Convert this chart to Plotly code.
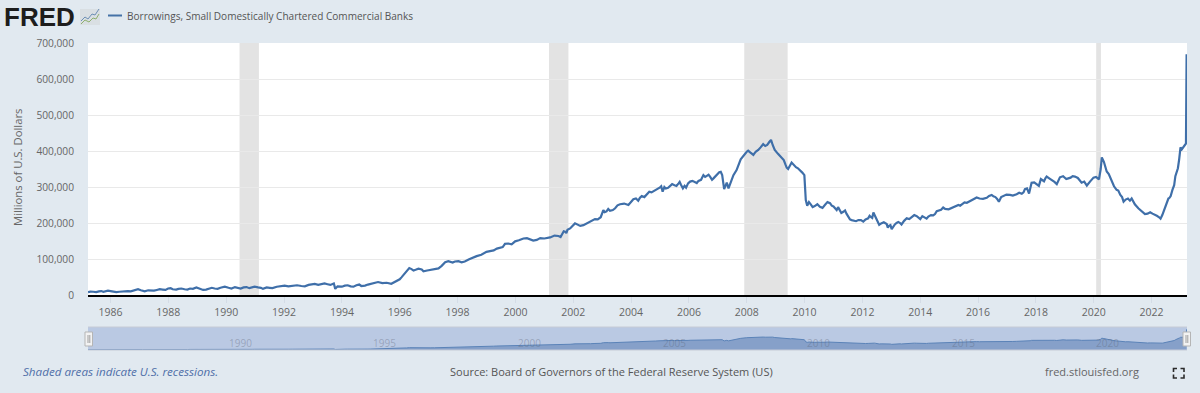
import datetime as dt
import plotly.graph_objects as go

W, H = 1200, 393

series_name = "Borrowings, Small Domestically Chartered Commercial Banks"
y_title = "Millions of U.S. Dollars"
note_text = "Shaded areas indicate U.S. recessions."
source_text = "Source: Board of Governors of the Federal Reserve System (US)"
site_text = "fred.stlouisfed.org"

# Decimal years and values (thousands of millions)
years = [
 1985.22,1985.4,1985.6,1985.75,1985.91,1986.05,1986.2,1986.4,1986.6,1986.8,1986.95,1987.05,1987.18,1987.4,1987.6,1987.8,1987.99,
 1988.15,1988.35,1988.56,1988.75,1988.97,1989.2,1989.4,1989.6,1989.8,1989.95,1990.18,1990.4,1990.6,1990.8,1990.98,1991.1,1991.27,1991.5,1991.75,
 1992.02,1992.3,1992.6,1992.85,1993.06,1993.3,1993.5,1993.72,1993.77,1993.85,1994.1,1994.3,1994.5,1994.67,1994.9,1995.13,1995.4,1995.71,1995.85,
 1996.0,1996.12,1996.24,1996.41,1996.55,1996.76,1996.82,1997.05,1997.34,1997.57,1997.75,1997.91,1998.14,1998.4,1998.66,1999.0,1999.25,1999.47,1999.64,1999.87,1999.99,
 2000.28,2000.5,2000.74,2001.0,2001.2,2001.49,2001.62,2001.72,2001.8,2001.89,2002.06,2002.24,2002.45,2002.75,2002.95,2003.04,2003.15,2003.27,2003.45,2003.62,2003.91,
 2004.08,2004.25,2004.37,2004.55,2004.71,2005.0,2005.09,2005.2,2005.35,2005.5,2005.64,2005.72,2005.79,2005.9,2006.04,2006.2,2006.33,2006.5,2006.62,2006.73,2006.85,2007.05,2007.15,
 2007.22,2007.31,2007.37,2007.54,2007.65,2007.79,2008.0,2008.05,2008.23,2008.4,2008.57,2008.71,2008.84,2008.97,2009.2,2009.38,2009.47,2009.55,2009.7,2009.84,2009.99,
 2010.04,2010.09,2010.22,2010.35,2010.53,2010.7,2010.88,2011.0,2011.11,2011.2,2011.34,2011.45,2011.57,2011.7,2011.86,2012.03,2012.2,2012.3,2012.38,2012.45,2012.52,2012.65,2012.84,2012.92,2013.01,
 2013.12,2013.24,2013.35,2013.53,2013.7,2013.88,2014.0,2014.15,2014.28,2014.45,2014.57,2014.72,2014.86,2015.1,2015.32,2015.45,2015.61,2015.84,2016.05,2016.3,2016.47,2016.6,2016.72,2016.87,
 2017.1,2017.33,2017.51,2017.62,2017.76,2017.85,2018.03,2018.17,2018.28,2018.37,2018.55,2018.72,2018.83,2019.05,2019.2,2019.35,2019.58,2019.76,2019.99,2020.18,2020.24,2020.28,
 2020.45,2020.6,2020.79,2020.92,2021.03,2021.18,2021.31,2021.54,2021.77,2021.95,2022.1,2022.26,2022.37,2022.47,2022.58,2022.66,2022.78,2022.87,2022.95,2023.0,2023.1,2023.19,2023.21,
]
values_k = [
 8,9,10,9,12,10,8,10,11,13,16,13,10,12,14,15,18,
 16,17,16,18,21,14,17,18,20,23,18,19,21,19,23,21,17,20,23,
 26,25,25,28,31,30,30,32,17,24,26,24,27,25,29,35,33,31,36,
 43.5,55,67.6,72,70,71,66,70,74,91,92,93,91,99,108,120,124,131,142,141,149,
 157,155,153,157,160,164,168,176,181,185,199,192,198,211,216,236,232,234,241,252,250,
 266,262,275,279,285,299,287,296,303,305,310,307,296,298,315,313,317,333,331,329,324,341,333,
 294,312,296,333,347,377,398,401,389,403,419,417,431,403,382,354,358,368,355,347,333,
 264,248,251,247,245,250,255,246,236,238,231,226,210,207,208,204,213,216,229,218,201,199,197,192,183,
 196,203,196,213,216,219,211,216,218,221,233,237,239,243,250,253,256,266,268,270,278,272,259,275,
 278,280,281,294,282,312,307,322,316,329,320,308,327,322,326,329,312,304,326,321,350,382,
 343,322,292,278,259,268,268,241,225,230,224,216,222,241,268,275,305,343,375,410,412,421,669,
]

# Extra small wiggles read between the main points
detail_years = [
 1985.3,1985.5,1985.68,1985.83,1986.12,1986.3,1986.5,1986.7,1987.1,1987.3,1987.5,1987.7,1987.9,
 1988.08,1988.27,1988.45,1988.66,1988.85,1989.1,1989.3,1989.5,1989.7,1989.88,1990.08,1990.3,1990.5,1990.7,1990.9,1991.2,1991.4,1991.6,1991.85,
 1992.15,1992.45,1992.72,1992.95,1993.18,1993.4,1993.6,1994.0,1994.2,1994.4,1994.6,1994.8,1995.0,1995.25,1995.55,
 1996.06,1996.33,1996.48,1996.65,1996.95,1997.2,1997.45,1997.68,1997.83,1998.03,1998.25,1998.53,1998.82,1999.12,1999.36,1999.56,1999.75,1999.93,
 2000.12,2000.4,2000.62,2000.86,2001.1,2001.35,2001.56,2001.67,2001.76,2002.15,2002.35,2002.6,2002.85,2003.09,2003.21,2003.37,2003.53,2003.76,2003.99,
 2004.17,2004.31,2004.46,2004.63,2004.85,2005.04,2005.15,2005.28,2005.42,2005.57,2005.68,2005.85,2005.97,2006.12,2006.27,2006.42,2006.56,2006.68,2006.8,2006.95,2007.1,
 2008.12,2008.31,2008.48,2008.64,2008.78,2008.9,2009.08,2009.28,2009.34,2009.43,2009.51,2009.62,2009.77,2009.92,
 2010.15,2010.28,2010.44,2010.62,2010.79,2010.94,2011.05,2011.16,2011.27,2011.4,2011.51,2011.63,2011.78,2011.95,2012.11,2012.25,2012.34,2012.42,2012.58,2012.74,2012.88,2012.97,
 2013.06,2013.18,2013.3,2013.44,2013.62,2013.79,2013.94,2014.07,2014.22,2014.37,2014.51,2014.65,2014.79,2014.98,2015.2,2015.38,2015.53,2015.72,2015.95,
 2016.17,2016.38,2016.53,2016.66,2016.8,2016.98,2017.2,2017.42,2017.57,2017.69,2017.8,2017.94,2018.1,2018.22,2018.33,2018.46,2018.64,2018.78,2018.94,2019.12,2019.27,2019.45,2019.67,2019.87,
 2020.08,2020.35,2020.52,2020.7,2020.85,2020.98,2021.1,2021.25,2021.42,2021.65,2021.86,2022.03,2022.18,2022.31,2022.42,2022.52,2022.62,2022.72,2022.82,2022.91,2022.97,2023.05,2023.15,
]
detail_values_k = [
 9.5,8,11,10,9,9,12,10,11,13,12,16,14,
 19,15,18,15,17,17,15,20,17,21,20,22,18,22,21,20,21,19,24,
 24,27,24,29,28,32,28,23,27,23,29,26,31,36,34,
 49,75,68,73,68,72,81,94,90,94,93,104,112,122,129,133,143,144,
 152,158,151,158,158,165,161,177,172,196,194,204,210,230,239,236,249,254,258,
 268,270,272,287,291,302,300,298,308,303,314,303,310,317,311,320,328,334,320,334,342,
 396,398,410,414,425,416,392,375,362,350,362,362,352,340,
 258,244,252,242,258,248,240,244,228,235,218,208,205,208,210,220,214,222,195,202,187,194,
 190,200,200,206,211,222,215,219,212,222,225,234,243,238,246,248,257,260,271,
 267,275,274,267,272,279,276,284,285,296,300,313,303,318,325,324,314,318,330,324,330,325,315,315,
 328,370,336,302,290,272,265,262,252,232,226,226,220,212,232,254,270,292,330,352,392,405,415,
]

y_ticks = [0, 100000, 200000, 300000, 400000, 500000, 600000, 700000]
x_tick_years = list(range(1986, 2024, 2))
nav_label_years = [1990, 1995, 2000, 2005, 2010, 2015, 2020]
recession_starts = ["1990-06-18", "2001-03-01", "2007-12-01", "2020-02-01"]
recession_ends = ["1991-02-18", "2001-11-01", "2009-06-01", "2020-04-01"]


def to_date(y):
    base = int(y)
    d = dt.date(base, 1, 1) + dt.timedelta(days=round((y - base) * 365.25))
    return d.isoformat()


merged = sorted(list(zip(years, values_k)) + list(zip(detail_years, detail_values_k)))
dates = [to_date(y) for y, _ in merged]
values = [v * 1000 for _, v in merged]
start, end = to_date(1985.22), to_date(2023.225)


def px(x):
    return x / W


def py(y):
    return 1 - y / H


BG = "#e1e9f0"
LINE = "#4572a7"
FONT = "Open Sans"

fig = go.Figure()
fig.add_trace(go.Scatter(x=dates, y=values, mode="lines", xaxis="x", yaxis="y",
                         line=dict(color="#3f6fa9", width=2.2), hoverinfo="skip", showlegend=False))
fig.add_trace(go.Scatter(x=dates, y=values, mode="lines", xaxis="x2", yaxis="y2",
                         fill="tozeroy", fillcolor="#86a0c9",
                         line=dict(color="#5b83b8", width=1), hoverinfo="skip", showlegend=False))

shapes = []
for s, e in zip(recession_starts, recession_ends):
    shapes.append(dict(type="rect", xref="x", yref="y domain", x0=s, x1=e, y0=0, y1=1,
                       fillcolor="#e3e3e3", line_width=0, layer="below"))

# Navigator
shapes.append(dict(type="rect", xref="paper", yref="paper", x0=px(88), x1=px(1187), y0=py(350), y1=py(327),
                   fillcolor="#bac9e3", line=dict(width=0), layer="below"))
for yy in (327, 350):
    shapes.append(dict(type="line", xref="paper", yref="paper", x0=px(88), x1=px(1187), y0=py(yy), y1=py(yy),
                       line=dict(color="#c6cbd6", width=1)))
for hx in (85, 1183):
    shapes.append(dict(type="rect", xref="paper", yref="paper", x0=px(hx), x1=px(hx + 7.5), y0=py(346), y1=py(332),
                       fillcolor="#f2f2f2", line=dict(color="#b5b5b5", width=1), layer="above"))
    for dx in (3, 4.8):
        shapes.append(dict(type="line", xref="paper", yref="paper", x0=px(hx + dx), x1=px(hx + dx), y0=py(343), y1=py(335),
                           line=dict(color="#a0a0a0", width=1), layer="above"))

# Legend swatch
shapes.append(dict(type="line", xref="paper", yref="paper", x0=px(108), x1=px(122), y0=py(15.5), y1=py(15.5),
                   line=dict(color=LINE, width=2)))


def poly(pts, color, width=1.0, fill=None):
    path = "M " + " L ".join(f"{px(a):.5f},{py(b):.5f}" for a, b in pts)
    return dict(type="path", xref="paper", yref="paper", path=path,
                line=dict(color=color, width=width), fillcolor=fill)


# Logo icon
shapes.append(dict(type="rect", xref="paper", yref="paper", x0=px(80), x1=px(100), y0=py(25), y1=py(9),
                   fillcolor="#d9dfe3", line=dict(width=0)))
shapes.append(poly([(81, 21), (85, 17), (88, 19), (92, 14), (95, 15), (99, 9)], "#6d8fb5", 1))
shapes.append(poly([(81, 24), (85, 20), (89, 22), (93, 18), (96, 19), (99, 14)], "#8fb070", 1))

# Fullscreen icon
shapes.append(poly([(1173.5, 372), (1173.5, 368.5), (1177, 368.5)], "#2b2b2b", 1.6))
shapes.append(poly([(1180.5, 368.5), (1184, 368.5), (1184, 372)], "#2b2b2b", 1.6))
shapes.append(poly([(1173.5, 374.5), (1173.5, 378), (1177, 378)], "#2b2b2b", 1.6))
shapes.append(poly([(1180.5, 378), (1184, 378), (1184, 374.5)], "#2b2b2b", 1.6))


def text(x, y, s, size=10.5, color="#555555", anchor="left", **kw):
    return dict(xref="paper", yref="paper", x=px(x), y=py(y), text=s, showarrow=False,
                xanchor=anchor, yanchor="middle", font=dict(family=kw.pop("family", FONT), size=size, color=color),
                **kw)


annotations = [
    text(2, 16.5, "<b>FRED</b>", size=26, color="#1d1d1d", family="Liberation Sans"),
    text(125, 15.5, series_name, size=10.05, color="#555555"),
    text(17, 168, y_title, size=11.3, color="#666666", anchor="center", textangle=-90),
    text(21, 371.5, f"<i>{note_text}</i>", size=11.65, color="#4f6fa8"),
    text(611, 371.5, source_text, size=11, color="#555555", anchor="center"),
    text(1092, 371.5, site_text, size=11, color="#666666", anchor="center"),
]
for yr in nav_label_years:
    annotations.append(dict(xref="x2", yref="paper", x=f"{yr}-01-01", y=py(343), text=str(yr), showarrow=False,
                            xshift=14, xanchor="center", yanchor="middle",
                            font=dict(family=FONT, size=10, color="rgba(90,100,120,0.38)")))

fig.update_layout(
    width=W, height=H, autosize=False,
    margin=dict(l=0, r=0, t=0, b=0),
    paper_bgcolor=BG, plot_bgcolor="#ffffff",
    showlegend=False, shapes=shapes, annotations=annotations,
    font=dict(family=FONT, size=10, color="#666666"),
    xaxis=dict(domain=[px(88), px(1187)], range=[start, end], anchor="y", automargin=False,
               tickvals=[f"{y}-01-01" for y in x_tick_years], ticktext=[str(y) for y in x_tick_years],
               ticks="outside", ticklen=6, tickcolor="#d4dce6", tickwidth=1,
               showgrid=False, showline=True, linecolor="#000000", linewidth=2, zeroline=False,
               tickfont=dict(family=FONT, size=10.5, color="#666666")),
    yaxis=dict(domain=[py(295), py(43)], range=[0, 700000], anchor="x", automargin=False,
               tickvals=y_ticks, ticktext=[f"{v:,}" for v in y_ticks],
               ticks="", ticklabelstandoff=13,
               showgrid=True, gridcolor="#e9e9e9", gridwidth=1, zeroline=False,
               tickfont=dict(family=FONT, size=10.2, color="#666666")),
    xaxis2=dict(domain=[px(88), px(1187)], range=[start, end], anchor="y2", visible=False, automargin=False),
    yaxis2=dict(domain=[py(350), py(327)], range=[0, 744000], anchor="x2", visible=False, automargin=False),
)

fig.write_html("out.html", config={"displayModeBar": False},
               post_script="document.body.style.margin='0';document.body.style.overflow='hidden';document.body.style.background='#e1e9f0';")
